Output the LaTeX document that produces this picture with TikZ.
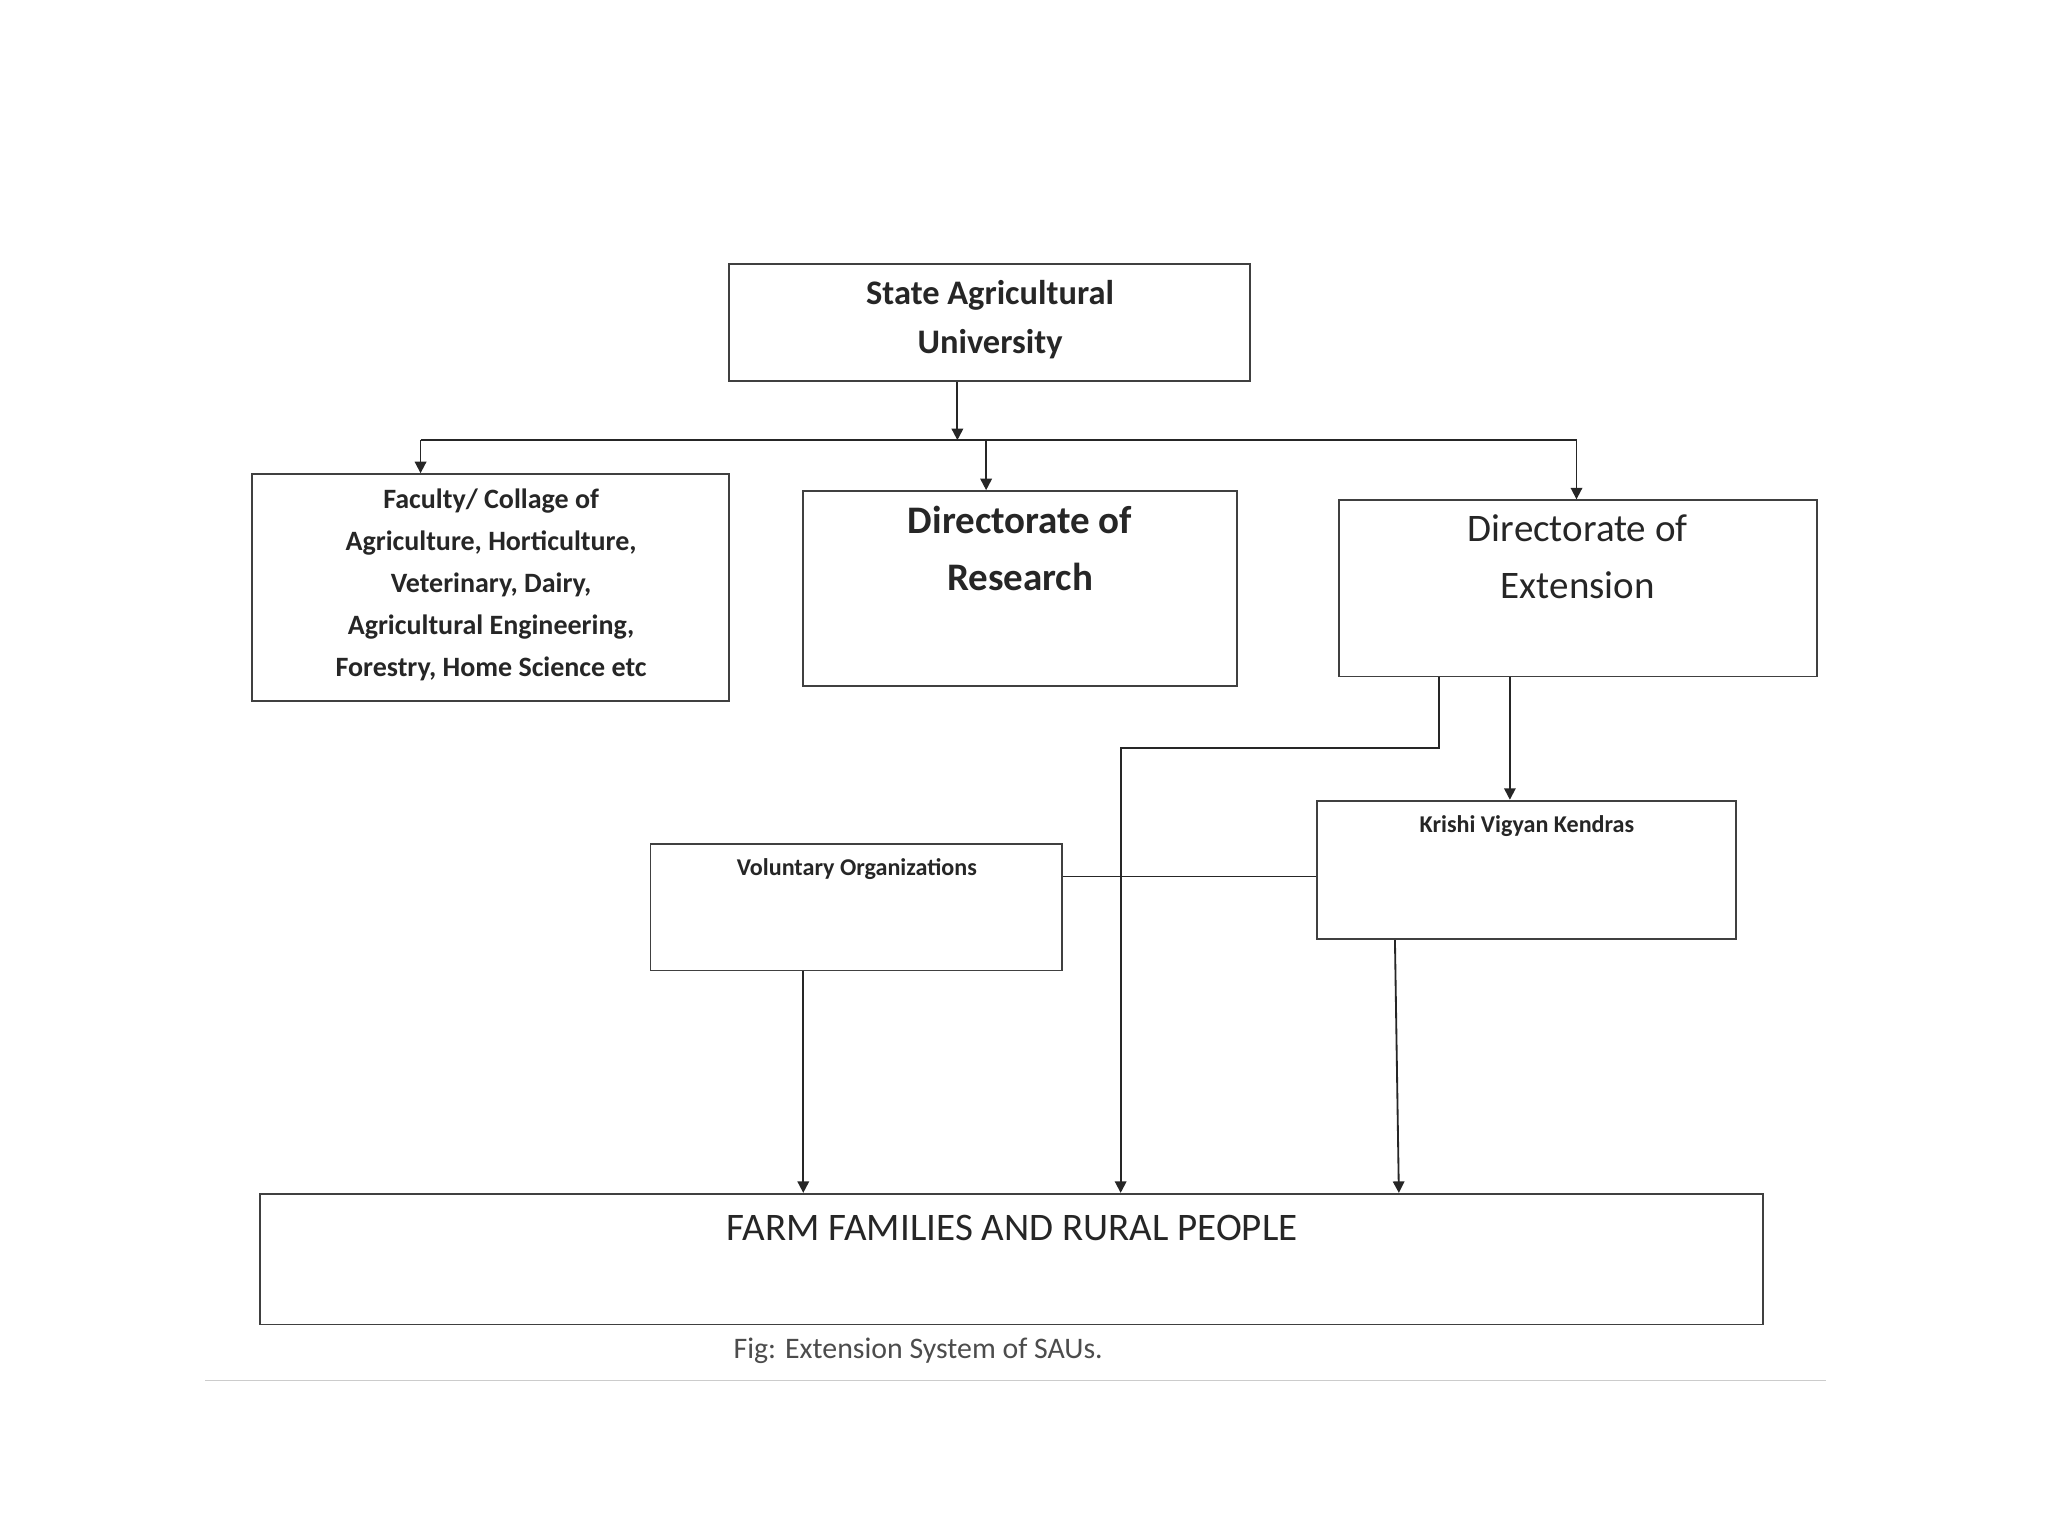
\documentclass[tikz,border=0pt]{standalone}
\usepackage{fontspec}
\setmainfont{Carlito}
\usetikzlibrary{fit,arrows.meta}
\begin{document}
\begin{tikzpicture}[x=0.02cm,y=-0.02cm,
  box/.style={draw=black!75,line width=0.8pt,inner sep=0pt},
  txt/.style={text=black!85,align=center,anchor=north,inner sep=0pt},
  arr/.style={-{Triangle[length=5pt,width=5pt]},line width=0.8pt,black!85},
  ln/.style={line width=0.8pt,black!85}]
\useasboundingbox (0,0) rectangle (1568,1176);
\node[box,fit={(558,202)(957,292)}] (sau) {};
\node[txt,font=\bfseries\fontsize{15}{21.5}\selectfont] (sauT) at (758,214) {State Agricultural\\University};
\node[box,fit={(193,363)(558,537)}] (fac) {};
\node[txt,font=\bfseries\fontsize{12.2}{18.3}\selectfont] (facT) at (376,374) {Faculty/ Collage of\\Agriculture, Horticulture,\\Veterinary, Dairy,\\Agricultural Engineering,\\Forestry, Home Science etc};
\node[box,fit={(615,376)(947,525)}] (res) {};
\node[txt,font=\bfseries\fontsize{17}{25}\selectfont] (resT) at (781,387) {Directorate of\\Research};
\node[box,fit={(1025,383)(1391,518)}] (ext) {};
\node[txt,font=\fontsize{17}{24.5}\selectfont] (extT) at (1208,394) {Directorate of\\Extension};
\node[box,fit={(1008,613)(1329,719)}] (kvk) {};
\node[txt,font=\bfseries\fontsize{10.5}{13}\selectfont] (kvkT) at (1169,624) {Krishi Vigyan Kendras};
\node[box,fit={(498,646)(813,743)}] (vol) {};
\node[txt,font=\bfseries\fontsize{10.5}{13}\selectfont] (volT) at (656,657) {Voluntary Organizations};
\node[box,fit={(199,914)(1350,1014)}] (farm) {};
\node[txt,font=\fontsize{17}{20}\selectfont] (farmT) at (775,930) {FARM FAMILIES AND RURAL PEOPLE};
\node[txt,text=black!70,font=\fontsize{13}{16}\selectfont] (cap) at (703,1024) {Fig: Extension System of SAUs.};
\draw[black!20,line width=0.6pt] (157,1057) -- (1398,1057);
% connectors
\coordinate (j) at (733,337);
\draw[arr] (sau.south -| j) -- (j);
\draw[ln] (322,337) -- (1207,337);
\draw[arr] (322,337) -- (fac.north -| 322,0);
\draw[arr] (755,337) -- (res.north -| 755,0);
\draw[arr] (1207,337) -- (ext.north -| 1207,0);
\draw[arr] (ext.south -| 1156,0) -- (kvk.north -| 1156,0);
\draw[arr] (ext.south -| 1102,0) -- (1102,573) -- (858,573) -- (farm.north -| 858,0);
\draw[ln] (vol.east |- 0,671) -- (kvk.west |- 0,671);
\draw[arr] (vol.south -| 615,0) -- (farm.north -| 615,0);
\draw[arr] (kvk.south -| 1068,0) -- (farm.north -| 1071,0);
\end{tikzpicture}
\end{document}
